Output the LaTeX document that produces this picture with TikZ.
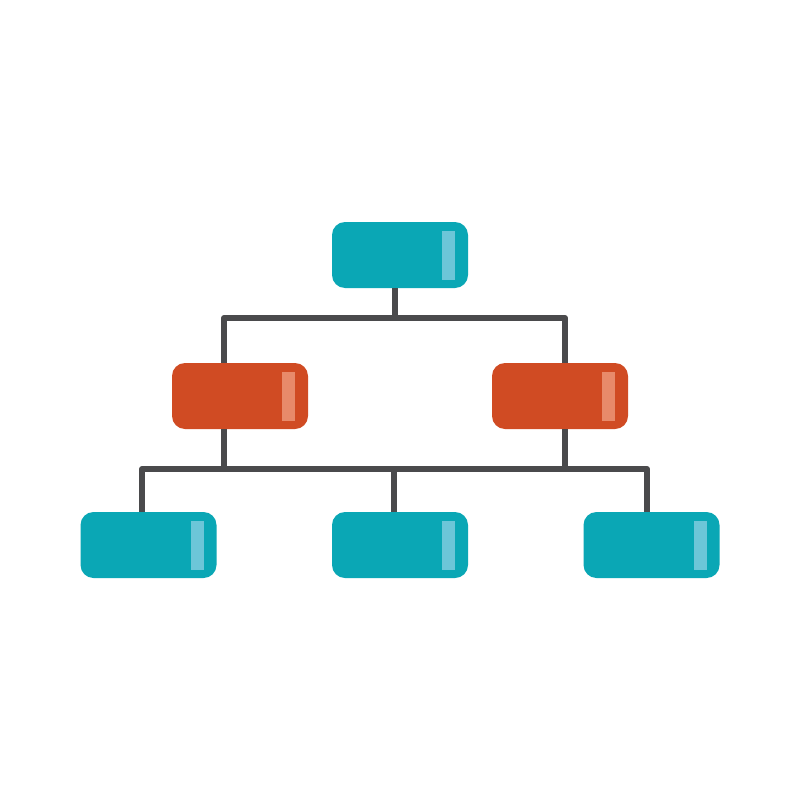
\documentclass[tikz,border=0pt]{standalone}
\begin{document}
\begin{tikzpicture}[x=1pt,y=-1pt,
  boxbase/.style={rectangle, rounded corners=13pt, minimum width=136pt, minimum height=66pt, inner sep=0pt, draw=none},
  tealbox/.style={boxbase, fill=tealc, path picture={\fill[tealhl, sharp corners] ([xshift=-26pt,yshift=-25pt]path picture bounding box.east) rectangle ([xshift=-13pt,yshift=24pt]path picture bounding box.east);}},
  orangebox/.style={boxbase, fill=orangec, path picture={\fill[orangehl, sharp corners] ([xshift=-26pt,yshift=-25pt]path picture bounding box.east) rectangle ([xshift=-13pt,yshift=24pt]path picture bounding box.east);}},
  conn/.style={draw=linec, line width=6pt, line join=round}]
\definecolor{tealc}{HTML}{0AA7B5}
\definecolor{tealhl}{HTML}{6CC6D8}
\definecolor{orangec}{HTML}{D04B23}
\definecolor{orangehl}{HTML}{E88A6A}
\definecolor{linec}{HTML}{4A4A4C}
\useasboundingbox[fill=white] (0,0) rectangle (800,800);
% boxes
\node[tealbox] (top) at (400,255) {};
\node[orangebox] (ml) at (240,396) {};
\node[orangebox] (mr) at (560,396) {};
\node[tealbox] (bl) at (148.5,545) {};
\node[tealbox] (bc) at (400,545) {};
\node[tealbox] (br) at (651.5,545) {};
% junctions
\coordinate (h1c) at (395,318);
\coordinate (h1l) at (224,318);
\coordinate (h1r) at (565,318);
\coordinate (h2l) at (224,469);
\coordinate (h2r) at (565,469);
\coordinate (h2a) at (142,469);
\coordinate (h2c) at (394,469);
\coordinate (h2e) at (647,469);
% connectors
\draw[conn] (top.south -| h1c) -- (h1c);
\draw[conn] (ml.north -| h1l) -- (h1l) -- (h1r) -- (mr.north -| h1r);
\draw[conn] (ml.south -| h2l) -- (h2l);
\draw[conn] (mr.south -| h2r) -- (h2r);
\draw[conn] (bl.north -| h2a) -- (h2a) -- (h2e) -- (br.north -| h2e);
\draw[conn] (h2c) -- (bc.north -| h2c);
\end{tikzpicture}
\end{document}
